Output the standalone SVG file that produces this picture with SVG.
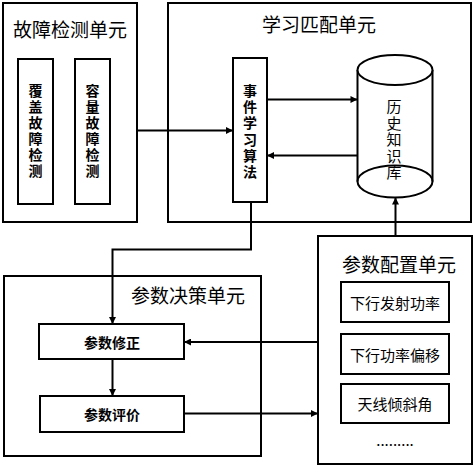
<svg xmlns="http://www.w3.org/2000/svg" width="474" height="466" viewBox="0 0 474 466">
<defs>
<marker id="ah" viewBox="0 0 10 10" refX="10" refY="5" markerWidth="9" markerHeight="7" markerUnits="userSpaceOnUse" orient="auto">
<path d="M0,0 L10,5 L0,10 Z" fill="#000"/>
</marker>
<style>
.box{fill:#fff;stroke:#000;stroke-width:2}
.title{font-family:"Noto Sans CJK SC","Noto Sans CJK JP",sans-serif;font-size:19px;fill:#000;text-anchor:middle;dominant-baseline:central}
.lbl{font-family:"Noto Sans CJK SC","Noto Sans CJK JP",sans-serif;font-size:14px;font-weight:bold;fill:#000;text-anchor:middle;dominant-baseline:central}
.sub{font-family:"Noto Sans CJK SC","Noto Sans CJK JP",sans-serif;font-size:15px;fill:#000;text-anchor:middle;dominant-baseline:central}
.ln{fill:none;stroke:#000;stroke-width:2}
</style>
</defs>
<rect width="474" height="466" fill="#fff"/>

<g id="fault-unit">
<rect class="box" x="3" y="3" width="134" height="219"/>
<text class="title" x="70" y="28">故障检测单元</text>
</g>
<g id="coverage-detect">
<rect class="box" x="18" y="59" width="35" height="145"/>
<text class="lbl" x="35.5" y="90"><tspan x="35.5" y="90">覆</tspan><tspan x="35.5" y="106">盖</tspan><tspan x="35.5" y="122">故</tspan><tspan x="35.5" y="138">障</tspan><tspan x="35.5" y="154">检</tspan><tspan x="35.5" y="170">测</tspan></text>
</g>
<g id="capacity-detect">
<rect class="box" x="75" y="59" width="35" height="145"/>
<text class="lbl" x="92.5" y="90"><tspan x="92.5" y="90">容</tspan><tspan x="92.5" y="106">量</tspan><tspan x="92.5" y="122">故</tspan><tspan x="92.5" y="138">障</tspan><tspan x="92.5" y="154">检</tspan><tspan x="92.5" y="170">测</tspan></text>
</g>

<g id="learning-unit">
<rect class="box" x="168" y="3" width="303" height="219"/>
<text class="title" x="319" y="23">学习匹配单元</text>
</g>
<g id="event-learning">
<rect class="box" x="233" y="58" width="34" height="144"/>
<text class="lbl" x="250" y="90"><tspan x="250" y="90">事</tspan><tspan x="250" y="106">件</tspan><tspan x="250" y="122">学</tspan><tspan x="250" y="139">习</tspan><tspan x="250" y="155">算</tspan><tspan x="250" y="171">法</tspan></text>
</g>
<g id="history-db">
<path class="box" d="M357.5,70 L357.5,181.5 A37.5,16 0 0 0 432.5,181.5 L432.5,70"/>
<ellipse class="box" cx="395" cy="70" rx="37.5" ry="15"/>
<path class="ln" d="M357.5,181.5 A37.5,16 0 0 1 432.5,181.5"/>
<text class="sub" x="394" y="105"><tspan x="394" y="105">历</tspan><tspan x="394" y="121.5">史</tspan><tspan x="394" y="138">知</tspan><tspan x="394" y="154.5">识</tspan><tspan x="394" y="171">库</tspan></text>
</g>

<g id="decision-unit">
<rect class="box" x="4" y="276" width="257" height="180"/>
<text class="title" x="188" y="294">参数决策单元</text>
</g>
<g id="param-correct">
<rect class="box" x="39" y="324" width="145" height="35"/>
<text class="lbl" x="112" y="342">参数修正</text>
</g>
<g id="param-eval">
<rect class="box" x="40" y="396" width="144" height="36"/>
<text class="lbl" x="112" y="414">参数评价</text>
</g>

<g id="config-unit">
<rect class="box" x="318" y="236" width="154" height="228"/>
<text class="title" x="399" y="263">参数配置单元</text>
</g>
<g id="dl-power">
<rect class="box" x="341" y="282" width="108" height="40"/>
<text class="sub" x="395" y="302">下行发射功率</text>
</g>
<g id="dl-offset">
<rect class="box" x="341" y="334" width="108" height="40"/>
<text class="sub" x="395" y="354">下行功率偏移</text>
</g>
<g id="tilt">
<rect class="box" x="341" y="384" width="108" height="39"/>
<text class="sub" x="395" y="403">天线倾斜角</text>
</g>
<g id="more">
<text class="sub" x="395" y="439">.........</text>
</g>

<g id="connectors">
<line class="ln" x1="137" y1="130.5" x2="233" y2="130.5" marker-end="url(#ah)"/>
<line class="ln" x1="267" y1="99.5" x2="357.5" y2="99.5" marker-end="url(#ah)"/>
<line class="ln" x1="357.5" y1="155.5" x2="267" y2="155.5" marker-end="url(#ah)"/>
<polyline class="ln" points="251,202 251,249.5 112.5,249.5 112.5,324" marker-end="url(#ah)"/>
<line class="ln" x1="112.5" y1="359" x2="112.5" y2="396" marker-end="url(#ah)"/>
<line class="ln" x1="318" y1="342" x2="184" y2="342" marker-end="url(#ah)"/>
<line class="ln" x1="184" y1="413.5" x2="318" y2="413.5" marker-end="url(#ah)"/>
<line class="ln" x1="395.5" y1="236" x2="395.5" y2="197.5" marker-end="url(#ah)"/>
</g>
</svg>
